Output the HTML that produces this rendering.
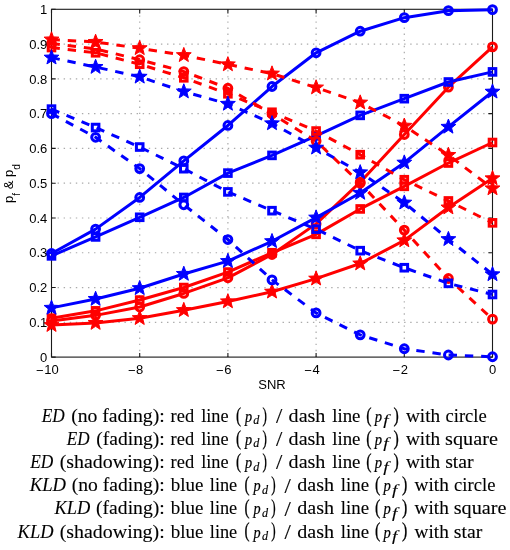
<!DOCTYPE html><html><head><meta charset="utf-8"><style>html,body{margin:0;padding:0;background:#fff;width:510px;height:550px;overflow:hidden}svg{display:block}</style></head><body>
<svg width="510" height="550" viewBox="0 0 510 550">
<rect width="510" height="550" fill="#fff"/>
<g stroke="#aaaaaa" stroke-width="1.2" stroke-dasharray="1.4 4.68" fill="none"><line x1="139.70" y1="9.30" x2="139.70" y2="357.10" stroke-dashoffset="0"/><line x1="227.90" y1="9.30" x2="227.90" y2="357.10" stroke-dashoffset="0"/><line x1="316.10" y1="9.30" x2="316.10" y2="357.10" stroke-dashoffset="0"/><line x1="404.30" y1="9.30" x2="404.30" y2="357.10" stroke-dashoffset="0"/><line x1="51.50" y1="322.32" x2="492.50" y2="322.32" stroke-dashoffset="0"/><line x1="51.50" y1="287.54" x2="492.50" y2="287.54" stroke-dashoffset="0"/><line x1="51.50" y1="252.76" x2="492.50" y2="252.76" stroke-dashoffset="0"/><line x1="51.50" y1="217.98" x2="492.50" y2="217.98" stroke-dashoffset="0"/><line x1="51.50" y1="183.20" x2="492.50" y2="183.20" stroke-dashoffset="0"/><line x1="51.50" y1="148.42" x2="492.50" y2="148.42" stroke-dashoffset="0"/><line x1="51.50" y1="113.64" x2="492.50" y2="113.64" stroke-dashoffset="0"/><line x1="51.50" y1="78.86" x2="492.50" y2="78.86" stroke-dashoffset="0"/><line x1="51.50" y1="44.08" x2="492.50" y2="44.08" stroke-dashoffset="0"/></g>
<path d="M51.50 357.10V352.90M51.50 9.30V13.50M139.70 357.10V352.90M139.70 9.30V13.50M227.90 357.10V352.90M227.90 9.30V13.50M316.10 357.10V352.90M316.10 9.30V13.50M404.30 357.10V352.90M404.30 9.30V13.50M492.50 357.10V352.90M492.50 9.30V13.50M51.50 357.10H55.70M492.50 357.10H488.30M51.50 322.32H55.70M492.50 322.32H488.30M51.50 287.54H55.70M492.50 287.54H488.30M51.50 252.76H55.70M492.50 252.76H488.30M51.50 217.98H55.70M492.50 217.98H488.30M51.50 183.20H55.70M492.50 183.20H488.30M51.50 148.42H55.70M492.50 148.42H488.30M51.50 113.64H55.70M492.50 113.64H488.30M51.50 78.86H55.70M492.50 78.86H488.30M51.50 44.08H55.70M492.50 44.08H488.30M51.50 9.30H55.70M492.50 9.30H488.30" stroke="#1a1a1a" stroke-width="1.1" fill="none"/>
<rect x="51.50" y="9.30" width="441.00" height="347.80" fill="none" stroke="#1a1a1a" stroke-width="1.1"/>
<polyline points="51.50,320.93 95.60,315.36 139.70,307.02 183.80,293.45 227.90,277.80 272.00,254.50 316.10,223.89 360.20,182.16 404.30,134.51 448.40,87.21 492.50,46.86" fill="none" stroke="#ff0000" stroke-width="3.0" stroke-linejoin="round"/>
<g fill="none" stroke="#ff0000" stroke-width="3.0" stroke-linejoin="round"><circle cx="51.50" cy="320.93" r="3.9"/><circle cx="95.60" cy="315.36" r="3.9"/><circle cx="139.70" cy="307.02" r="3.9"/><circle cx="183.80" cy="293.45" r="3.9"/><circle cx="227.90" cy="277.80" r="3.9"/><circle cx="272.00" cy="254.50" r="3.9"/><circle cx="316.10" cy="223.89" r="3.9"/><circle cx="360.20" cy="182.16" r="3.9"/><circle cx="404.30" cy="134.51" r="3.9"/><circle cx="448.40" cy="87.21" r="3.9"/><circle cx="492.50" cy="46.86" r="3.9"/></g>
<polyline points="51.50,318.15 95.60,310.84 139.70,300.06 183.80,287.54 227.90,272.06 272.00,252.76 316.10,234.33 360.20,208.94 404.30,186.33 448.40,163.03 492.50,142.51" fill="none" stroke="#ff0000" stroke-width="3.0" stroke-linejoin="round"/>
<g fill="none" stroke="#ff0000" stroke-width="3.0" stroke-linejoin="round"><rect x="48.20" y="314.85" width="6.6" height="6.6" stroke-linejoin="miter"/><rect x="92.30" y="307.54" width="6.6" height="6.6" stroke-linejoin="miter"/><rect x="136.40" y="296.76" width="6.6" height="6.6" stroke-linejoin="miter"/><rect x="180.50" y="284.24" width="6.6" height="6.6" stroke-linejoin="miter"/><rect x="224.60" y="268.76" width="6.6" height="6.6" stroke-linejoin="miter"/><rect x="268.70" y="249.46" width="6.6" height="6.6" stroke-linejoin="miter"/><rect x="312.80" y="231.03" width="6.6" height="6.6" stroke-linejoin="miter"/><rect x="356.90" y="205.64" width="6.6" height="6.6" stroke-linejoin="miter"/><rect x="401.00" y="183.03" width="6.6" height="6.6" stroke-linejoin="miter"/><rect x="445.10" y="159.73" width="6.6" height="6.6" stroke-linejoin="miter"/><rect x="489.20" y="139.21" width="6.6" height="6.6" stroke-linejoin="miter"/></g>
<polyline points="51.50,325.10 95.60,323.02 139.70,318.15 183.80,310.15 227.90,301.45 272.00,291.71 316.10,278.67 360.20,263.54 404.30,240.41 448.40,207.55 492.50,178.33" fill="none" stroke="#ff0000" stroke-width="3.0" stroke-linejoin="round"/>
<g fill="none" stroke="#ff0000" stroke-width="3.0" stroke-linejoin="round"><polygon points="51.50,317.30 53.44,322.43 58.92,322.69 54.64,326.12 56.08,331.41 51.50,328.40 46.92,331.41 48.36,326.12 44.08,322.69 49.56,322.43" fill="#ff0000" stroke-width="1.0"/><polygon points="95.60,315.22 97.54,320.35 103.02,320.61 98.74,324.04 100.18,329.33 95.60,326.32 91.02,329.33 92.46,324.04 88.18,320.61 93.66,320.35" fill="#ff0000" stroke-width="1.0"/><polygon points="139.70,310.35 141.64,315.48 147.12,315.74 142.84,319.17 144.28,324.46 139.70,321.45 135.12,324.46 136.56,319.17 132.28,315.74 137.76,315.48" fill="#ff0000" stroke-width="1.0"/><polygon points="183.80,302.35 185.74,307.48 191.22,307.74 186.94,311.17 188.38,316.46 183.80,313.45 179.22,316.46 180.66,311.17 176.38,307.74 181.86,307.48" fill="#ff0000" stroke-width="1.0"/><polygon points="227.90,293.65 229.84,298.78 235.32,299.04 231.04,302.47 232.48,307.76 227.90,304.75 223.32,307.76 224.76,302.47 220.48,299.04 225.96,298.78" fill="#ff0000" stroke-width="1.0"/><polygon points="272.00,283.91 273.94,289.04 279.42,289.30 275.14,292.73 276.58,298.02 272.00,295.01 267.42,298.02 268.86,292.73 264.58,289.30 270.06,289.04" fill="#ff0000" stroke-width="1.0"/><polygon points="316.10,270.87 318.04,276.00 323.52,276.26 319.24,279.69 320.68,284.98 316.10,281.97 311.52,284.98 312.96,279.69 308.68,276.26 314.16,276.00" fill="#ff0000" stroke-width="1.0"/><polygon points="360.20,255.74 362.14,260.87 367.62,261.13 363.34,264.56 364.78,269.85 360.20,266.84 355.62,269.85 357.06,264.56 352.78,261.13 358.26,260.87" fill="#ff0000" stroke-width="1.0"/><polygon points="404.30,232.61 406.24,237.74 411.72,238.00 407.44,241.43 408.88,246.72 404.30,243.71 399.72,246.72 401.16,241.43 396.88,238.00 402.36,237.74" fill="#ff0000" stroke-width="1.0"/><polygon points="448.40,199.75 450.34,204.88 455.82,205.14 451.54,208.57 452.98,213.86 448.40,210.85 443.82,213.86 445.26,208.57 440.98,205.14 446.46,204.88" fill="#ff0000" stroke-width="1.0"/><polygon points="492.50,170.53 494.44,175.66 499.92,175.92 495.64,179.35 497.08,184.64 492.50,181.63 487.92,184.64 489.36,179.35 485.08,175.92 490.56,175.66" fill="#ff0000" stroke-width="1.0"/></g>
<polyline points="51.50,253.46 95.60,229.11 139.70,197.46 183.80,160.94 227.90,125.47 272.00,86.51 316.10,52.78 360.20,31.21 404.30,17.65 448.40,10.69 492.50,9.65" fill="none" stroke="#0000ff" stroke-width="3.0" stroke-linejoin="round"/>
<g fill="none" stroke="#0000ff" stroke-width="3.0" stroke-linejoin="round"><circle cx="51.50" cy="253.46" r="3.9"/><circle cx="95.60" cy="229.11" r="3.9"/><circle cx="139.70" cy="197.46" r="3.9"/><circle cx="183.80" cy="160.94" r="3.9"/><circle cx="227.90" cy="125.47" r="3.9"/><circle cx="272.00" cy="86.51" r="3.9"/><circle cx="316.10" cy="52.78" r="3.9"/><circle cx="360.20" cy="31.21" r="3.9"/><circle cx="404.30" cy="17.65" r="3.9"/><circle cx="448.40" cy="10.69" r="3.9"/><circle cx="492.50" cy="9.65" r="3.9"/></g>
<polyline points="51.50,255.89 95.60,236.94 139.70,217.28 183.80,197.46 227.90,173.11 272.00,155.38 316.10,135.90 360.20,115.38 404.30,98.68 448.40,81.99 492.50,71.90" fill="none" stroke="#0000ff" stroke-width="3.0" stroke-linejoin="round"/>
<g fill="none" stroke="#0000ff" stroke-width="3.0" stroke-linejoin="round"><rect x="48.20" y="252.59" width="6.6" height="6.6" stroke-linejoin="miter"/><rect x="92.30" y="233.64" width="6.6" height="6.6" stroke-linejoin="miter"/><rect x="136.40" y="213.98" width="6.6" height="6.6" stroke-linejoin="miter"/><rect x="180.50" y="194.16" width="6.6" height="6.6" stroke-linejoin="miter"/><rect x="224.60" y="169.81" width="6.6" height="6.6" stroke-linejoin="miter"/><rect x="268.70" y="152.08" width="6.6" height="6.6" stroke-linejoin="miter"/><rect x="312.80" y="132.60" width="6.6" height="6.6" stroke-linejoin="miter"/><rect x="356.90" y="112.08" width="6.6" height="6.6" stroke-linejoin="miter"/><rect x="401.00" y="95.38" width="6.6" height="6.6" stroke-linejoin="miter"/><rect x="445.10" y="78.69" width="6.6" height="6.6" stroke-linejoin="miter"/><rect x="489.20" y="68.60" width="6.6" height="6.6" stroke-linejoin="miter"/></g>
<polyline points="51.50,307.89 95.60,299.02 139.70,288.24 183.80,273.98 227.90,261.11 272.00,241.28 316.10,217.63 360.20,192.94 404.30,162.68 448.40,126.86 492.50,91.73" fill="none" stroke="#0000ff" stroke-width="3.0" stroke-linejoin="round"/>
<g fill="none" stroke="#0000ff" stroke-width="3.0" stroke-linejoin="round"><polygon points="51.50,300.09 53.44,305.22 58.92,305.48 54.64,308.91 56.08,314.20 51.50,311.19 46.92,314.20 48.36,308.91 44.08,305.48 49.56,305.22" fill="#0000ff" stroke-width="1.0"/><polygon points="95.60,291.22 97.54,296.35 103.02,296.61 98.74,300.04 100.18,305.33 95.60,302.32 91.02,305.33 92.46,300.04 88.18,296.61 93.66,296.35" fill="#0000ff" stroke-width="1.0"/><polygon points="139.70,280.44 141.64,285.57 147.12,285.83 142.84,289.26 144.28,294.55 139.70,291.54 135.12,294.55 136.56,289.26 132.28,285.83 137.76,285.57" fill="#0000ff" stroke-width="1.0"/><polygon points="183.80,266.18 185.74,271.31 191.22,271.57 186.94,275.00 188.38,280.29 183.80,277.28 179.22,280.29 180.66,275.00 176.38,271.57 181.86,271.31" fill="#0000ff" stroke-width="1.0"/><polygon points="227.90,253.31 229.84,258.44 235.32,258.70 231.04,262.13 232.48,267.42 227.90,264.41 223.32,267.42 224.76,262.13 220.48,258.70 225.96,258.44" fill="#0000ff" stroke-width="1.0"/><polygon points="272.00,233.48 273.94,238.61 279.42,238.87 275.14,242.30 276.58,247.59 272.00,244.58 267.42,247.59 268.86,242.30 264.58,238.87 270.06,238.61" fill="#0000ff" stroke-width="1.0"/><polygon points="316.10,209.83 318.04,214.96 323.52,215.22 319.24,218.65 320.68,223.94 316.10,220.93 311.52,223.94 312.96,218.65 308.68,215.22 314.16,214.96" fill="#0000ff" stroke-width="1.0"/><polygon points="360.20,185.14 362.14,190.27 367.62,190.53 363.34,193.96 364.78,199.25 360.20,196.24 355.62,199.25 357.06,193.96 352.78,190.53 358.26,190.27" fill="#0000ff" stroke-width="1.0"/><polygon points="404.30,154.88 406.24,160.01 411.72,160.27 407.44,163.70 408.88,168.99 404.30,165.98 399.72,168.99 401.16,163.70 396.88,160.27 402.36,160.01" fill="#0000ff" stroke-width="1.0"/><polygon points="448.40,119.06 450.34,124.19 455.82,124.45 451.54,127.88 452.98,133.17 448.40,130.16 443.82,133.17 445.26,127.88 440.98,124.45 446.46,124.19" fill="#0000ff" stroke-width="1.0"/><polygon points="492.50,83.93 494.44,89.06 499.92,89.32 495.64,92.75 497.08,98.04 492.50,95.03 487.92,98.04 489.36,92.75 485.08,89.32 490.56,89.06" fill="#0000ff" stroke-width="1.0"/></g>
<polyline points="51.50,43.38 95.60,48.95 139.70,59.73 183.80,71.56 227.90,88.25 272.00,113.99 316.10,141.12 360.20,183.20 404.30,230.15 448.40,278.50 492.50,319.19" fill="none" stroke="#ff0000" stroke-width="3.0" stroke-linejoin="round" stroke-dasharray="8.4 7.89"/>
<g fill="none" stroke="#ff0000" stroke-width="3.0" stroke-linejoin="round"><circle cx="51.50" cy="43.38" r="3.9"/><circle cx="95.60" cy="48.95" r="3.9"/><circle cx="139.70" cy="59.73" r="3.9"/><circle cx="183.80" cy="71.56" r="3.9"/><circle cx="227.90" cy="88.25" r="3.9"/><circle cx="272.00" cy="113.99" r="3.9"/><circle cx="316.10" cy="141.12" r="3.9"/><circle cx="360.20" cy="183.20" r="3.9"/><circle cx="404.30" cy="230.15" r="3.9"/><circle cx="448.40" cy="278.50" r="3.9"/><circle cx="492.50" cy="319.19" r="3.9"/></g>
<polyline points="51.50,47.56 95.60,52.78 139.70,64.25 183.80,77.82 227.90,93.82 272.00,112.25 316.10,131.03 360.20,154.68 404.30,179.72 448.40,200.94 492.50,222.85" fill="none" stroke="#ff0000" stroke-width="3.0" stroke-linejoin="round" stroke-dasharray="8.4 7.89"/>
<g fill="none" stroke="#ff0000" stroke-width="3.0" stroke-linejoin="round"><rect x="48.20" y="44.26" width="6.6" height="6.6" stroke-linejoin="miter"/><rect x="92.30" y="49.48" width="6.6" height="6.6" stroke-linejoin="miter"/><rect x="136.40" y="60.95" width="6.6" height="6.6" stroke-linejoin="miter"/><rect x="180.50" y="74.52" width="6.6" height="6.6" stroke-linejoin="miter"/><rect x="224.60" y="90.52" width="6.6" height="6.6" stroke-linejoin="miter"/><rect x="268.70" y="108.95" width="6.6" height="6.6" stroke-linejoin="miter"/><rect x="312.80" y="127.73" width="6.6" height="6.6" stroke-linejoin="miter"/><rect x="356.90" y="151.38" width="6.6" height="6.6" stroke-linejoin="miter"/><rect x="401.00" y="176.42" width="6.6" height="6.6" stroke-linejoin="miter"/><rect x="445.10" y="197.64" width="6.6" height="6.6" stroke-linejoin="miter"/><rect x="489.20" y="219.55" width="6.6" height="6.6" stroke-linejoin="miter"/></g>
<polyline points="51.50,39.56 95.60,41.99 139.70,48.25 183.80,55.21 227.90,64.43 272.00,73.64 316.10,87.56 360.20,102.65 404.30,125.81 448.40,155.03 492.50,188.42" fill="none" stroke="#ff0000" stroke-width="3.0" stroke-linejoin="round" stroke-dasharray="8.4 7.89"/>
<g fill="none" stroke="#ff0000" stroke-width="3.0" stroke-linejoin="round"><polygon points="51.50,31.76 53.44,36.89 58.92,37.15 54.64,40.58 56.08,45.87 51.50,42.86 46.92,45.87 48.36,40.58 44.08,37.15 49.56,36.89" fill="#ff0000" stroke-width="1.0"/><polygon points="95.60,34.19 97.54,39.32 103.02,39.58 98.74,43.01 100.18,48.30 95.60,45.29 91.02,48.30 92.46,43.01 88.18,39.58 93.66,39.32" fill="#ff0000" stroke-width="1.0"/><polygon points="139.70,40.45 141.64,45.58 147.12,45.84 142.84,49.27 144.28,54.56 139.70,51.55 135.12,54.56 136.56,49.27 132.28,45.84 137.76,45.58" fill="#ff0000" stroke-width="1.0"/><polygon points="183.80,47.41 185.74,52.54 191.22,52.80 186.94,56.23 188.38,61.52 183.80,58.51 179.22,61.52 180.66,56.23 176.38,52.80 181.86,52.54" fill="#ff0000" stroke-width="1.0"/><polygon points="227.90,56.63 229.84,61.76 235.32,62.02 231.04,65.45 232.48,70.74 227.90,67.73 223.32,70.74 224.76,65.45 220.48,62.02 225.96,61.76" fill="#ff0000" stroke-width="1.0"/><polygon points="272.00,65.84 273.94,70.97 279.42,71.23 275.14,74.66 276.58,79.95 272.00,76.94 267.42,79.95 268.86,74.66 264.58,71.23 270.06,70.97" fill="#ff0000" stroke-width="1.0"/><polygon points="316.10,79.76 318.04,84.89 323.52,85.14 319.24,88.57 320.68,93.87 316.10,90.86 311.52,93.87 312.96,88.57 308.68,85.14 314.16,84.89" fill="#ff0000" stroke-width="1.0"/><polygon points="360.20,94.85 362.14,99.98 367.62,100.24 363.34,103.67 364.78,108.96 360.20,105.95 355.62,108.96 357.06,103.67 352.78,100.24 358.26,99.98" fill="#ff0000" stroke-width="1.0"/><polygon points="404.30,118.01 406.24,123.14 411.72,123.40 407.44,126.83 408.88,132.12 404.30,129.11 399.72,132.12 401.16,126.83 396.88,123.40 402.36,123.14" fill="#ff0000" stroke-width="1.0"/><polygon points="448.40,147.23 450.34,152.36 455.82,152.62 451.54,156.05 452.98,161.34 448.40,158.33 443.82,161.34 445.26,156.05 440.98,152.62 446.46,152.36" fill="#ff0000" stroke-width="1.0"/><polygon points="492.50,180.62 494.44,185.75 499.92,186.01 495.64,189.44 497.08,194.73 492.50,191.72 487.92,194.73 489.36,189.44 485.08,186.01 490.56,185.75" fill="#ff0000" stroke-width="1.0"/></g>
<polyline points="51.50,113.64 95.60,137.29 139.70,168.59 183.80,204.76 227.90,239.54 272.00,279.89 316.10,312.93 360.20,334.84 404.30,348.75 448.40,355.01 492.50,356.75" fill="none" stroke="#0000ff" stroke-width="3.0" stroke-linejoin="round" stroke-dasharray="8.4 7.89"/>
<g fill="none" stroke="#0000ff" stroke-width="3.0" stroke-linejoin="round"><circle cx="51.50" cy="113.64" r="3.9"/><circle cx="95.60" cy="137.29" r="3.9"/><circle cx="139.70" cy="168.59" r="3.9"/><circle cx="183.80" cy="204.76" r="3.9"/><circle cx="227.90" cy="239.54" r="3.9"/><circle cx="272.00" cy="279.89" r="3.9"/><circle cx="316.10" cy="312.93" r="3.9"/><circle cx="360.20" cy="334.84" r="3.9"/><circle cx="404.30" cy="348.75" r="3.9"/><circle cx="448.40" cy="355.01" r="3.9"/><circle cx="492.50" cy="356.75" r="3.9"/></g>
<polyline points="51.50,109.12 95.60,127.55 139.70,147.03 183.80,168.70 227.90,191.90 272.00,210.68 316.10,229.11 360.20,250.67 404.30,267.72 448.40,283.37 492.50,294.50" fill="none" stroke="#0000ff" stroke-width="3.0" stroke-linejoin="round" stroke-dasharray="8.4 7.89"/>
<g fill="none" stroke="#0000ff" stroke-width="3.0" stroke-linejoin="round"><rect x="48.20" y="105.82" width="6.6" height="6.6" stroke-linejoin="miter"/><rect x="92.30" y="124.25" width="6.6" height="6.6" stroke-linejoin="miter"/><rect x="136.40" y="143.73" width="6.6" height="6.6" stroke-linejoin="miter"/><rect x="180.50" y="165.40" width="6.6" height="6.6" stroke-linejoin="miter"/><rect x="224.60" y="188.60" width="6.6" height="6.6" stroke-linejoin="miter"/><rect x="268.70" y="207.38" width="6.6" height="6.6" stroke-linejoin="miter"/><rect x="312.80" y="225.81" width="6.6" height="6.6" stroke-linejoin="miter"/><rect x="356.90" y="247.37" width="6.6" height="6.6" stroke-linejoin="miter"/><rect x="401.00" y="264.42" width="6.6" height="6.6" stroke-linejoin="miter"/><rect x="445.10" y="280.07" width="6.6" height="6.6" stroke-linejoin="miter"/><rect x="489.20" y="291.20" width="6.6" height="6.6" stroke-linejoin="miter"/></g>
<polyline points="51.50,57.64 95.60,67.03 139.70,76.77 183.80,91.55 227.90,103.90 272.00,123.38 316.10,147.72 360.20,172.42 404.30,202.68 448.40,239.20 492.50,274.32" fill="none" stroke="#0000ff" stroke-width="3.0" stroke-linejoin="round" stroke-dasharray="8.4 7.89"/>
<g fill="none" stroke="#0000ff" stroke-width="3.0" stroke-linejoin="round"><polygon points="51.50,49.84 53.44,54.97 58.92,55.23 54.64,58.66 56.08,63.95 51.50,60.94 46.92,63.95 48.36,58.66 44.08,55.23 49.56,54.97" fill="#0000ff" stroke-width="1.0"/><polygon points="95.60,59.23 97.54,64.37 103.02,64.62 98.74,68.05 100.18,73.35 95.60,70.33 91.02,73.35 92.46,68.05 88.18,64.62 93.66,64.37" fill="#0000ff" stroke-width="1.0"/><polygon points="139.70,68.97 141.64,74.10 147.12,74.36 142.84,77.79 144.28,83.08 139.70,80.07 135.12,83.08 136.56,77.79 132.28,74.36 137.76,74.10" fill="#0000ff" stroke-width="1.0"/><polygon points="183.80,83.75 185.74,88.88 191.22,89.14 186.94,92.57 188.38,97.87 183.80,94.85 179.22,97.87 180.66,92.57 176.38,89.14 181.86,88.88" fill="#0000ff" stroke-width="1.0"/><polygon points="227.90,96.10 229.84,101.23 235.32,101.49 231.04,104.92 232.48,110.21 227.90,107.20 223.32,110.21 224.76,104.92 220.48,101.49 225.96,101.23" fill="#0000ff" stroke-width="1.0"/><polygon points="272.00,115.58 273.94,120.71 279.42,120.97 275.14,124.40 276.58,129.69 272.00,126.68 267.42,129.69 268.86,124.40 264.58,120.97 270.06,120.71" fill="#0000ff" stroke-width="1.0"/><polygon points="316.10,139.92 318.04,145.05 323.52,145.31 319.24,148.74 320.68,154.03 316.10,151.02 311.52,154.03 312.96,148.74 308.68,145.31 314.16,145.05" fill="#0000ff" stroke-width="1.0"/><polygon points="360.20,164.62 362.14,169.75 367.62,170.01 363.34,173.44 364.78,178.73 360.20,175.72 355.62,178.73 357.06,173.44 352.78,170.01 358.26,169.75" fill="#0000ff" stroke-width="1.0"/><polygon points="404.30,194.88 406.24,200.01 411.72,200.27 407.44,203.70 408.88,208.99 404.30,205.98 399.72,208.99 401.16,203.70 396.88,200.27 402.36,200.01" fill="#0000ff" stroke-width="1.0"/><polygon points="448.40,231.40 450.34,236.53 455.82,236.79 451.54,240.22 452.98,245.51 448.40,242.50 443.82,245.51 445.26,240.22 440.98,236.79 446.46,236.53" fill="#0000ff" stroke-width="1.0"/><polygon points="492.50,266.52 494.44,271.65 499.92,271.91 495.64,275.34 497.08,280.63 492.50,277.62 487.92,280.63 489.36,275.34 485.08,271.91 490.56,271.65" fill="#0000ff" stroke-width="1.0"/></g>
<g font-family="Liberation Sans, Arial, Helvetica, sans-serif" font-size="13" fill="#000"><text x="47.3" y="361.75" text-anchor="end">0</text><text x="47.3" y="326.97" text-anchor="end">0.1</text><text x="47.3" y="292.19" text-anchor="end">0.2</text><text x="47.3" y="257.41" text-anchor="end">0.3</text><text x="47.3" y="222.63" text-anchor="end">0.4</text><text x="47.3" y="187.85" text-anchor="end">0.5</text><text x="47.3" y="153.07" text-anchor="end">0.6</text><text x="47.3" y="118.29" text-anchor="end">0.7</text><text x="47.3" y="83.51" text-anchor="end">0.8</text><text x="47.3" y="48.73" text-anchor="end">0.9</text><text x="47.3" y="13.95" text-anchor="end">1</text><text x="51.50" y="373.5" text-anchor="middle">10</text><text x="43.67" y="374.7" text-anchor="end">−</text><text x="139.70" y="373.5" text-anchor="middle">8</text><text x="135.48" y="374.7" text-anchor="end">−</text><text x="227.90" y="373.5" text-anchor="middle">6</text><text x="223.69" y="374.7" text-anchor="end">−</text><text x="316.10" y="373.5" text-anchor="middle">4</text><text x="311.88" y="374.7" text-anchor="end">−</text><text x="404.30" y="373.5" text-anchor="middle">2</text><text x="400.08" y="374.7" text-anchor="end">−</text><text x="492.50" y="373.5" text-anchor="middle">0</text><text x="272.00" y="389.3" text-anchor="middle">SNR</text><text transform="translate(13.3,183.6) rotate(-90)" text-anchor="middle">p<tspan font-size="10" dy="7">f</tspan><tspan dy="-7"> &amp; p</tspan><tspan font-size="10" dy="7">d</tspan></text></g>
<g font-family="Liberation Serif, Times New Roman, serif" fill="#000"><text transform="matrix(0.9583 0 0 1.0000 41.69 421.80)" font-size="18" stroke="#000" stroke-width="0.1"><tspan font-style="italic">ED</tspan></text><text transform="matrix(1.0955 0 0 1.0000 71.13 421.80)" font-size="18" stroke="#000" stroke-width="0.1">(no fading):</text><text transform="matrix(1.0267 0 0 1.0000 170.59 421.80)" font-size="18" stroke="#000" stroke-width="0.1">red</text><text transform="matrix(1.0171 0 0 1.0000 201.20 421.80)" font-size="18" stroke="#000" stroke-width="0.1">line</text><text transform="matrix(0.8421 0 0 1.1138 235.92 421.57)" font-size="18" stroke="#000" stroke-width="0.25">(</text><text transform="matrix(0.7895 0 0 0.9760 244.94 421.85)" font-size="18" stroke="#000" stroke-width="0.25"><tspan font-style="italic">p</tspan></text><text transform="matrix(0.9667 0 0 1.0222 253.31 424.29)" font-size="12.6" stroke="#000" stroke-width="0.15"><tspan font-style="italic">d</tspan></text><text transform="matrix(0.7368 0 0 1.1138 262.58 421.57)" font-size="18" stroke="#000" stroke-width="0.25">)</text><text transform="matrix(1.2600 0 0 1.1918 275.95 423.15)" font-size="18" stroke="#000" stroke-width="0.12">/</text><text transform="matrix(1.1163 0 0 1.0000 288.59 421.80)" font-size="18" stroke="#000" stroke-width="0.1">dash</text><text transform="matrix(1.0476 0 0 1.0000 332.19 421.80)" font-size="18" stroke="#000" stroke-width="0.1">line</text><text transform="matrix(0.8842 0 0 1.1138 366.29 421.57)" font-size="18" stroke="#000" stroke-width="0.25">(</text><text transform="matrix(0.8105 0 0 0.9760 374.86 421.85)" font-size="18" stroke="#000" stroke-width="0.25"><tspan font-style="italic">p</tspan></text><text transform="matrix(1.5200 0 0 1.1745 383.35 425.32)" font-size="12.6" stroke="#000" stroke-width="0.1"><tspan font-style="italic">f</tspan></text><text transform="matrix(0.8842 0 0 1.1138 393.41 421.57)" font-size="18" stroke="#000" stroke-width="0.25">)</text><text transform="matrix(1.0709 0 0 1.0000 405.95 421.80)" font-size="18" stroke="#000" stroke-width="0.1">with</text><text transform="matrix(1.0359 0 0 1.0000 445.43 421.80)" font-size="18" stroke="#000" stroke-width="0.1">circle</text><text transform="matrix(0.9500 0 0 1.0000 66.79 444.94)" font-size="18" stroke="#000" stroke-width="0.1"><tspan font-style="italic">ED</tspan></text><text transform="matrix(1.0864 0 0 1.0000 96.34 444.94)" font-size="18" stroke="#000" stroke-width="0.1">(fading):</text><text transform="matrix(1.0267 0 0 1.0000 170.59 444.94)" font-size="18" stroke="#000" stroke-width="0.1">red</text><text transform="matrix(1.0171 0 0 1.0000 201.20 444.94)" font-size="18" stroke="#000" stroke-width="0.1">line</text><text transform="matrix(0.8421 0 0 1.1138 235.92 444.71)" font-size="18" stroke="#000" stroke-width="0.25">(</text><text transform="matrix(0.7895 0 0 0.9760 244.94 444.99)" font-size="18" stroke="#000" stroke-width="0.25"><tspan font-style="italic">p</tspan></text><text transform="matrix(0.9667 0 0 1.0222 253.31 447.43)" font-size="12.6" stroke="#000" stroke-width="0.15"><tspan font-style="italic">d</tspan></text><text transform="matrix(0.7368 0 0 1.1138 262.58 444.71)" font-size="18" stroke="#000" stroke-width="0.25">)</text><text transform="matrix(1.2600 0 0 1.1918 275.95 446.29)" font-size="18" stroke="#000" stroke-width="0.12">/</text><text transform="matrix(1.1163 0 0 1.0000 288.59 444.94)" font-size="18" stroke="#000" stroke-width="0.1">dash</text><text transform="matrix(1.0476 0 0 1.0000 332.19 444.94)" font-size="18" stroke="#000" stroke-width="0.1">line</text><text transform="matrix(0.8842 0 0 1.1138 366.29 444.71)" font-size="18" stroke="#000" stroke-width="0.25">(</text><text transform="matrix(0.8105 0 0 0.9760 374.86 444.99)" font-size="18" stroke="#000" stroke-width="0.25"><tspan font-style="italic">p</tspan></text><text transform="matrix(1.5200 0 0 1.1745 383.35 448.46)" font-size="12.6" stroke="#000" stroke-width="0.1"><tspan font-style="italic">f</tspan></text><text transform="matrix(0.8842 0 0 1.1138 393.41 444.71)" font-size="18" stroke="#000" stroke-width="0.25">)</text><text transform="matrix(1.0709 0 0 1.0000 405.95 444.94)" font-size="18" stroke="#000" stroke-width="0.1">with</text><text transform="matrix(1.1257 0 0 1.0000 445.11 444.94)" font-size="18" stroke="#000" stroke-width="0.1">square</text><text transform="matrix(0.9625 0 0 1.0000 30.29 468.08)" font-size="18" stroke="#000" stroke-width="0.1"><tspan font-style="italic">ED</tspan></text><text transform="matrix(1.1062 0 0 1.0000 59.72 468.08)" font-size="18" stroke="#000" stroke-width="0.1">(shadowing):</text><text transform="matrix(1.0267 0 0 1.0000 170.59 468.08)" font-size="18" stroke="#000" stroke-width="0.1">red</text><text transform="matrix(1.0171 0 0 1.0000 201.20 468.08)" font-size="18" stroke="#000" stroke-width="0.1">line</text><text transform="matrix(0.8421 0 0 1.1138 235.92 467.85)" font-size="18" stroke="#000" stroke-width="0.25">(</text><text transform="matrix(0.7895 0 0 0.9760 244.94 468.13)" font-size="18" stroke="#000" stroke-width="0.25"><tspan font-style="italic">p</tspan></text><text transform="matrix(0.9667 0 0 1.0222 253.31 470.57)" font-size="12.6" stroke="#000" stroke-width="0.15"><tspan font-style="italic">d</tspan></text><text transform="matrix(0.7368 0 0 1.1138 262.58 467.85)" font-size="18" stroke="#000" stroke-width="0.25">)</text><text transform="matrix(1.2600 0 0 1.1918 275.95 469.43)" font-size="18" stroke="#000" stroke-width="0.12">/</text><text transform="matrix(1.1163 0 0 1.0000 288.59 468.08)" font-size="18" stroke="#000" stroke-width="0.1">dash</text><text transform="matrix(1.0476 0 0 1.0000 332.19 468.08)" font-size="18" stroke="#000" stroke-width="0.1">line</text><text transform="matrix(0.8842 0 0 1.1138 366.29 467.85)" font-size="18" stroke="#000" stroke-width="0.25">(</text><text transform="matrix(0.8105 0 0 0.9760 374.86 468.13)" font-size="18" stroke="#000" stroke-width="0.25"><tspan font-style="italic">p</tspan></text><text transform="matrix(1.5200 0 0 1.1745 383.35 471.60)" font-size="12.6" stroke="#000" stroke-width="0.1"><tspan font-style="italic">f</tspan></text><text transform="matrix(0.8842 0 0 1.1138 393.41 467.85)" font-size="18" stroke="#000" stroke-width="0.25">)</text><text transform="matrix(1.0709 0 0 1.0000 405.95 468.08)" font-size="18" stroke="#000" stroke-width="0.1">with</text><text transform="matrix(1.0970 0 0 1.0000 445.13 468.08)" font-size="18" stroke="#000" stroke-width="0.1">star</text><text transform="matrix(1.0371 0 0 1.0000 29.71 491.22)" font-size="18" stroke="#000" stroke-width="0.1"><tspan font-style="italic">KLD</tspan></text><text transform="matrix(1.0895 0 0 1.0000 71.63 491.22)" font-size="18" stroke="#000" stroke-width="0.1">(no fading):</text><text transform="matrix(1.0557 0 0 1.0000 170.85 491.22)" font-size="18" stroke="#000" stroke-width="0.1">blue</text><text transform="matrix(1.0171 0 0 1.0000 209.80 491.22)" font-size="18" stroke="#000" stroke-width="0.1">line</text><text transform="matrix(0.8421 0 0 1.1138 244.52 490.99)" font-size="18" stroke="#000" stroke-width="0.25">(</text><text transform="matrix(0.7895 0 0 0.9760 253.54 491.27)" font-size="18" stroke="#000" stroke-width="0.25"><tspan font-style="italic">p</tspan></text><text transform="matrix(0.9667 0 0 1.0222 261.91 493.71)" font-size="12.6" stroke="#000" stroke-width="0.15"><tspan font-style="italic">d</tspan></text><text transform="matrix(0.7368 0 0 1.1138 271.18 490.99)" font-size="18" stroke="#000" stroke-width="0.25">)</text><text transform="matrix(1.2600 0 0 1.1918 284.55 492.57)" font-size="18" stroke="#000" stroke-width="0.12">/</text><text transform="matrix(1.1163 0 0 1.0000 297.19 491.22)" font-size="18" stroke="#000" stroke-width="0.1">dash</text><text transform="matrix(1.0476 0 0 1.0000 340.79 491.22)" font-size="18" stroke="#000" stroke-width="0.1">line</text><text transform="matrix(0.8842 0 0 1.1138 374.89 490.99)" font-size="18" stroke="#000" stroke-width="0.25">(</text><text transform="matrix(0.8105 0 0 0.9760 383.46 491.27)" font-size="18" stroke="#000" stroke-width="0.25"><tspan font-style="italic">p</tspan></text><text transform="matrix(1.5200 0 0 1.1745 391.95 494.74)" font-size="12.6" stroke="#000" stroke-width="0.1"><tspan font-style="italic">f</tspan></text><text transform="matrix(0.8842 0 0 1.1138 402.01 490.99)" font-size="18" stroke="#000" stroke-width="0.25">)</text><text transform="matrix(1.0709 0 0 1.0000 414.55 491.22)" font-size="18" stroke="#000" stroke-width="0.1">with</text><text transform="matrix(1.0359 0 0 1.0000 454.03 491.22)" font-size="18" stroke="#000" stroke-width="0.1">circle</text><text transform="matrix(1.0229 0 0 1.0000 54.41 514.36)" font-size="18" stroke="#000" stroke-width="0.1"><tspan font-style="italic">KLD</tspan></text><text transform="matrix(1.0914 0 0 1.0000 96.03 514.36)" font-size="18" stroke="#000" stroke-width="0.1">(fading):</text><text transform="matrix(1.0557 0 0 1.0000 170.85 514.36)" font-size="18" stroke="#000" stroke-width="0.1">blue</text><text transform="matrix(1.0171 0 0 1.0000 209.80 514.36)" font-size="18" stroke="#000" stroke-width="0.1">line</text><text transform="matrix(0.8421 0 0 1.1138 244.52 514.13)" font-size="18" stroke="#000" stroke-width="0.25">(</text><text transform="matrix(0.7895 0 0 0.9760 253.54 514.41)" font-size="18" stroke="#000" stroke-width="0.25"><tspan font-style="italic">p</tspan></text><text transform="matrix(0.9667 0 0 1.0222 261.91 516.85)" font-size="12.6" stroke="#000" stroke-width="0.15"><tspan font-style="italic">d</tspan></text><text transform="matrix(0.7368 0 0 1.1138 271.18 514.13)" font-size="18" stroke="#000" stroke-width="0.25">)</text><text transform="matrix(1.2600 0 0 1.1918 284.55 515.71)" font-size="18" stroke="#000" stroke-width="0.12">/</text><text transform="matrix(1.1163 0 0 1.0000 297.19 514.36)" font-size="18" stroke="#000" stroke-width="0.1">dash</text><text transform="matrix(1.0476 0 0 1.0000 340.79 514.36)" font-size="18" stroke="#000" stroke-width="0.1">line</text><text transform="matrix(0.8842 0 0 1.1138 374.89 514.13)" font-size="18" stroke="#000" stroke-width="0.25">(</text><text transform="matrix(0.8105 0 0 0.9760 383.46 514.41)" font-size="18" stroke="#000" stroke-width="0.25"><tspan font-style="italic">p</tspan></text><text transform="matrix(1.5200 0 0 1.1745 391.95 517.88)" font-size="12.6" stroke="#000" stroke-width="0.1"><tspan font-style="italic">f</tspan></text><text transform="matrix(0.8842 0 0 1.1138 402.01 514.13)" font-size="18" stroke="#000" stroke-width="0.25">)</text><text transform="matrix(1.0709 0 0 1.0000 414.55 514.36)" font-size="18" stroke="#000" stroke-width="0.1">with</text><text transform="matrix(1.1257 0 0 1.0000 453.71 514.36)" font-size="18" stroke="#000" stroke-width="0.1">square</text><text transform="matrix(1.0257 0 0 1.0000 17.61 537.50)" font-size="18" stroke="#000" stroke-width="0.1"><tspan font-style="italic">KLD</tspan></text><text transform="matrix(1.1062 0 0 1.0000 59.72 537.50)" font-size="18" stroke="#000" stroke-width="0.1">(shadowing):</text><text transform="matrix(1.0557 0 0 1.0000 170.85 537.50)" font-size="18" stroke="#000" stroke-width="0.1">blue</text><text transform="matrix(1.0171 0 0 1.0000 209.80 537.50)" font-size="18" stroke="#000" stroke-width="0.1">line</text><text transform="matrix(0.8421 0 0 1.1138 244.52 537.27)" font-size="18" stroke="#000" stroke-width="0.25">(</text><text transform="matrix(0.7895 0 0 0.9760 253.54 537.55)" font-size="18" stroke="#000" stroke-width="0.25"><tspan font-style="italic">p</tspan></text><text transform="matrix(0.9667 0 0 1.0222 261.91 539.99)" font-size="12.6" stroke="#000" stroke-width="0.15"><tspan font-style="italic">d</tspan></text><text transform="matrix(0.7368 0 0 1.1138 271.18 537.27)" font-size="18" stroke="#000" stroke-width="0.25">)</text><text transform="matrix(1.2600 0 0 1.1918 284.55 538.85)" font-size="18" stroke="#000" stroke-width="0.12">/</text><text transform="matrix(1.1163 0 0 1.0000 297.19 537.50)" font-size="18" stroke="#000" stroke-width="0.1">dash</text><text transform="matrix(1.0476 0 0 1.0000 340.79 537.50)" font-size="18" stroke="#000" stroke-width="0.1">line</text><text transform="matrix(0.8842 0 0 1.1138 374.89 537.27)" font-size="18" stroke="#000" stroke-width="0.25">(</text><text transform="matrix(0.8105 0 0 0.9760 383.46 537.55)" font-size="18" stroke="#000" stroke-width="0.25"><tspan font-style="italic">p</tspan></text><text transform="matrix(1.5200 0 0 1.1745 391.95 541.02)" font-size="12.6" stroke="#000" stroke-width="0.1"><tspan font-style="italic">f</tspan></text><text transform="matrix(0.8842 0 0 1.1138 402.01 537.27)" font-size="18" stroke="#000" stroke-width="0.25">)</text><text transform="matrix(1.0709 0 0 1.0000 414.55 537.50)" font-size="18" stroke="#000" stroke-width="0.1">with</text><text transform="matrix(1.0970 0 0 1.0000 453.73 537.50)" font-size="18" stroke="#000" stroke-width="0.1">star</text></g>
</svg></body></html>
